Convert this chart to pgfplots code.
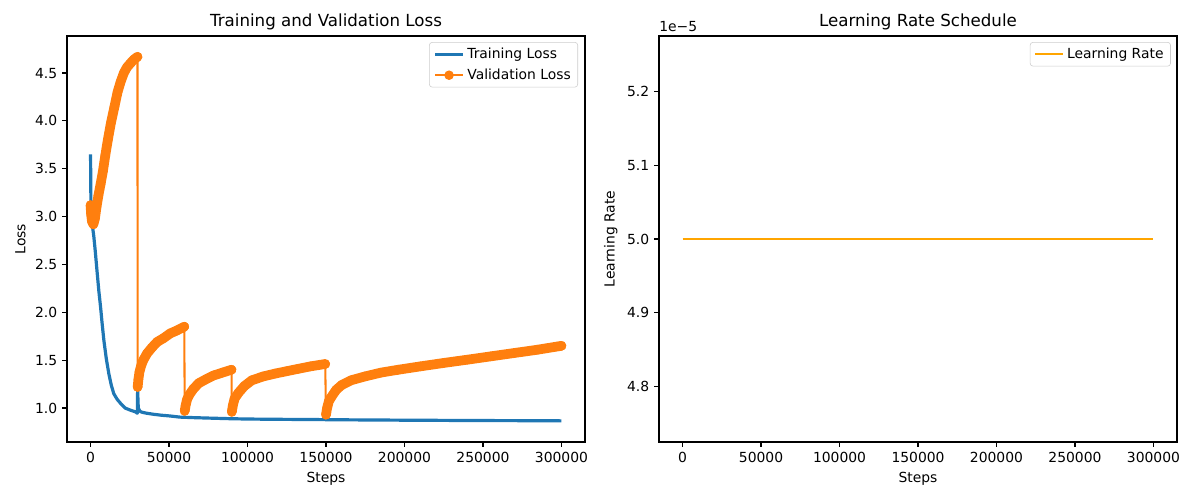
\documentclass[border=0pt]{standalone}
\usepackage{pgfplots}
\usepackage{pgfplotstable}
\pgfplotsset{compat=1.18}
\usepackage{fontspec}
\setmainfont{DejaVu Sans}

\definecolor{tabblue}{HTML}{1F77B4}
\definecolor{taborange}{HTML}{FF7F0E}
\definecolor{lrorange}{HTML}{FFA500}

% training loss
\pgfplotstableread{
step loss
0 3.65
300 3.02
1000 2.93
2100 2.79
3000 2.64
4240 2.41
5300 2.22
6356 2.06
7400 1.88
8470 1.71
10000 1.52
11630 1.36
13200 1.24
14800 1.15
17000 1.09
19070 1.05
22000 1.00
25000 0.98
28600 0.96
29800 0.945
30000 1.19
30400 1.00
31500 0.965
33000 0.955
36000 0.945
40000 0.935
45000 0.925
50000 0.918
57000 0.905
65000 0.900
75000 0.895
88000 0.889
100000 0.885
120000 0.882
140000 0.880
160000 0.877
180000 0.875
200000 0.873
225000 0.871
250000 0.869
275000 0.868
300000 0.866
}\trainloss

% validation loss, one table per run between restarts
\pgfplotstableread{
step loss
0 3.12
400 3.02
900 2.95
1800 2.92
2800 2.98
3800 3.10
5000 3.22
6400 3.34
7840 3.47
9400 3.64
11000 3.80
13000 3.98
15250 4.15
17200 4.30
19200 4.41
21200 4.50
23200 4.56
25300 4.60
27500 4.64
29900 4.67
}\valA
\pgfplotstableread{
step loss
30000 1.22
30500 1.30
31200 1.38
32200 1.44
33600 1.50
36000 1.57
39000 1.63
42400 1.69
46500 1.73
50800 1.78
55000 1.81
59700 1.85
}\valB
\pgfplotstableread{
step loss
60000 0.97
60600 1.03
61500 1.09
63000 1.14
65500 1.20
69000 1.26
73500 1.30
78400 1.34
84000 1.37
89800 1.40
}\valC
\pgfplotstableread{
step loss
90000 0.96
90700 1.03
91800 1.10
94300 1.16
98000 1.23
102800 1.29
110000 1.33
117600 1.36
125000 1.385
132400 1.41
140000 1.435
149500 1.46
}\valD
\pgfplotstableread{
step loss
150000 0.93
150700 1.00
151800 1.07
153600 1.12
156500 1.19
160000 1.24
166000 1.29
174800 1.33
185000 1.37
196000 1.40
210000 1.435
224600 1.47
240000 1.505
255000 1.54
270000 1.575
285000 1.61
300000 1.65
}\valE
\pgfplotstablevertcat{\valloss}{\valA}
\pgfplotstablevertcat{\valloss}{\valB}
\pgfplotstablevertcat{\valloss}{\valC}
\pgfplotstablevertcat{\valloss}{\valD}
\pgfplotstablevertcat{\valloss}{\valE}

% learning rate (x 1e-5)
\pgfplotstableread{
step lr
0 5.0
300000 5.0
}\lrate

\pgfplotsset{
  mpl/.style={
    scale only axis, width=372.96pt, height=292.32pt,
    clip mode=individual,
    axis line style={line width=0.8pt},
    tick align=outside, major tick length=3.5pt,
    every tick/.style={black, line width=0.8pt},
    xtick pos=left, ytick pos=left,
    tick label style={font=\fontsize{10}{12}\selectfont},
    label style={font=\fontsize{10}{12}\selectfont},
    title style={font=\fontsize{12}{14}\selectfont, yshift=-5pt},
    /pgf/number format/assume math mode=true,
    xmin=-15000, xmax=315000,
    xtick={0,50000,100000,150000,200000,250000,300000},
    scaled x ticks=false, scaled y ticks=false,
    xticklabel style={/pgf/number format/fixed, /pgf/number format/1000 sep={}},
    yticklabel style={/pgf/number format/fixed, /pgf/number format/fixed zerofill, /pgf/number format/precision=1},
    legend style={font=\fontsize{10}{12}\selectfont, draw=black!20, rounded corners=2pt,
      anchor=north east, inner xsep=3pt, inner ysep=2pt, row sep=2pt},
    legend cell align=left,
    xlabel={Steps},
  },
  valband/.style={taborange, line width=7pt, line cap=round, line join=round, forget plot},
}

\begin{document}
\begin{tikzpicture}
\useasboundingbox (0,0) rectangle (864pt,360pt);

\begin{axis}[mpl,
  at={(48.24pt,41.76pt)}, anchor=south west,
  ymin=0.645, ymax=4.887,
  ytick={1.0,1.5,2.0,2.5,3.0,3.5,4.0,4.5},
  title={Training and Validation Loss},
  ylabel={Loss},
  legend style={at={(0.9865,0.985)}},
  legend image code/.code={\draw[mark repeat=2,mark phase=2,#1] plot coordinates {(0pt,0pt) (10pt,0pt) (20pt,0pt)};},
]
\addplot[tabblue, line width=2.3pt, line join=round] table[x=step,y=loss] {\trainloss};
\addlegendentry{Training Loss}
\addplot[valband] table[x=step,y=loss] {\valA};
\addplot[valband] table[x=step,y=loss] {\valB};
\addplot[valband] table[x=step,y=loss] {\valC};
\addplot[valband] table[x=step,y=loss] {\valD};
\addplot[valband] table[x=step,y=loss] {\valE};
\addplot[taborange, line width=1.5pt, mark=*, mark size=2.9pt, mark options={solid, line width=1pt}] table[x=step,y=loss] {\valloss};
\addlegendentry{Validation Loss}
\end{axis}

\begin{axis}[mpl,
  at={(474.48pt,41.76pt)}, anchor=south west,
  ymin=4.725, ymax=5.275,
  ytick={4.8,4.9,5.0,5.1,5.2},
  title={Learning Rate Schedule},
  ylabel={Learning Rate},
  legend style={at={(0.988,0.985)}},
  legend image code/.code={\draw[#1] (0pt,0pt) -- (20pt,0pt);},
]
\addplot[lrorange, line width=1.5pt] table[x=step,y=lr] {\lrate};
\addlegendentry{Learning Rate}
\node[anchor=south west, inner sep=0pt, font=\fontsize{10}{12}\selectfont] at (rel axis cs:0,1) [yshift=3pt] {1e−5};
\end{axis}
\end{tikzpicture}
\end{document}
